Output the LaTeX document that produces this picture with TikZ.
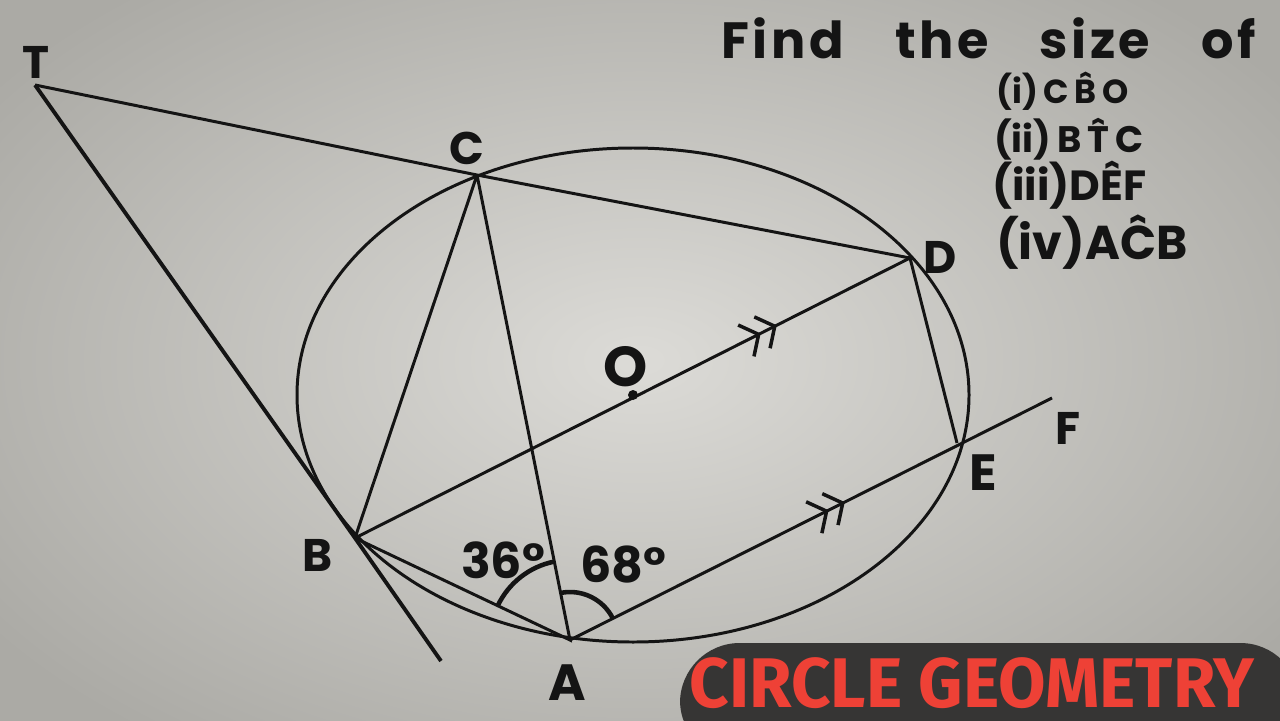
\documentclass[tikz,border=0pt]{standalone}
\usepackage{fontspec}
\setmainfont{Poppins}
\newfontfamily\bannerfont{Fira Sans}
\usetikzlibrary{angles,decorations.markings,arrows.meta}
\definecolor{paper}{HTML}{DCDBD7}
\definecolor{paperedge}{HTML}{ABAAA5}
\definecolor{ink}{HTML}{141414}
\definecolor{bannerbg}{HTML}{363534}
\definecolor{bannerred}{HTML}{EE4136}
\newcommand{\hatted}[1]{\accent"02C6 #1}
\tikzset{
  geo/.style={line width=1.7pt, draw=ink},
  lbl/.style={font=\bfseries\fontsize{26}{26}\selectfont, text=ink, inner sep=0pt},
  ask/.style={font=\bfseries\fontsize{#1}{#1}\selectfont, text=ink, inner sep=0pt, anchor=west},
  parmark/.style={postaction={decorate}, decoration={markings,
    mark=at position #1 with {\arrow[line width=2pt]{Straight Barb[length=8pt,width=20pt] Straight Barb[length=8pt,width=20pt]}}}}
}

\begin{document}
\begin{tikzpicture}[x=0.02cm,y=-0.02cm]
  \useasboundingbox (0,0) rectangle (1280,720);
  \shade[inner color=paper, outer color=paperedge] (-150,-120) rectangle (1430,840);
  % points
  \coordinate (O) at (633,395);
  \coordinate (T) at (35,85);
  \coordinate (C) at (477,175);
  \coordinate (D) at (910,258);
  \coordinate (E) at (957,443);
  \coordinate (F) at (1052,398);
  \coordinate (B) at (355,538);
  \coordinate (A) at (570,640);
  \coordinate (Tend) at (441,661);
  % circle and lines
  \draw[geo] (O) ellipse [x radius=336, y radius=247];
  \draw[geo] (T) -- (C) -- (D) -- (E);
  \draw[geo, line width=2.2pt] (T) -- (B) -- (Tend);
  \draw[geo] (C) -- (B) -- (A) -- (C);
  \draw[geo, parmark=0.76] (B) -- (D);
  \draw[geo, parmark=0.57] (A) -- (F);
  \fill[ink] (O) circle [radius=5];
  % angles at A
  \pic[draw=ink, line width=2.6pt, angle radius=1.6cm] {angle = C--A--B};
  \pic[draw=ink, line width=2.6pt, angle radius=0.96cm] {angle = E--A--C};
  % labels
  \node[lbl] (lT) at (36,62) {T};
  \node[lbl] (lC) at (467,148) {C};
  \node[lbl] (lD) at (940,257) {D};
  \node[lbl, font=\bfseries\fontsize{32}{32}\selectfont] (lO) at (626,367) {O};
  \node[lbl] (lF) at (1068,428) {F};
  \node[lbl, font=\bfseries\fontsize{29}{29}\selectfont] (lE) at (983,473) {E};
  \node[lbl] (lB) at (318,555) {B};
  \node[lbl, font=\bfseries\fontsize{29}{29}\selectfont] (lA) at (567,683) {A};
  \node[lbl, font=\bfseries\fontsize{28}{28}\selectfont] (a36) at (503,560) {36°};
  \node[lbl, font=\bfseries\fontsize{28}{28}\selectfont] (a68) at (623,565) {68°};
  % question
  \node[ask=29, anchor=east] (q0) at (1256,38) {\addfontfeature{LetterSpace=7}Find\quad the\quad size\quad of};
  \node[ask=19] (q1) at (996,91) {(i)\,C\,\hatted{B}\,O};
  \node[ask=21] (q2) at (994,139) {(ii)\,B\,\hatted{T}\,C};
  \node[ask=24] (q3) at (992,185) {(iii)D\hatted{E}F};
  \node[ask=27] (q4) at (996,242) {(iv)A\hatted{C}B};
  % banner
  \fill[bannerbg, rounded corners=34] (680,643) rectangle (1300,760);
  \node[font=\bannerfont\bfseries\fontsize{40}{40}\selectfont, text=bannerred, inner sep=0pt] (title) at (972,683) {\scalebox{0.98}[1]{CIRCLE GEOMETRY}};
\end{tikzpicture}
\end{document}
